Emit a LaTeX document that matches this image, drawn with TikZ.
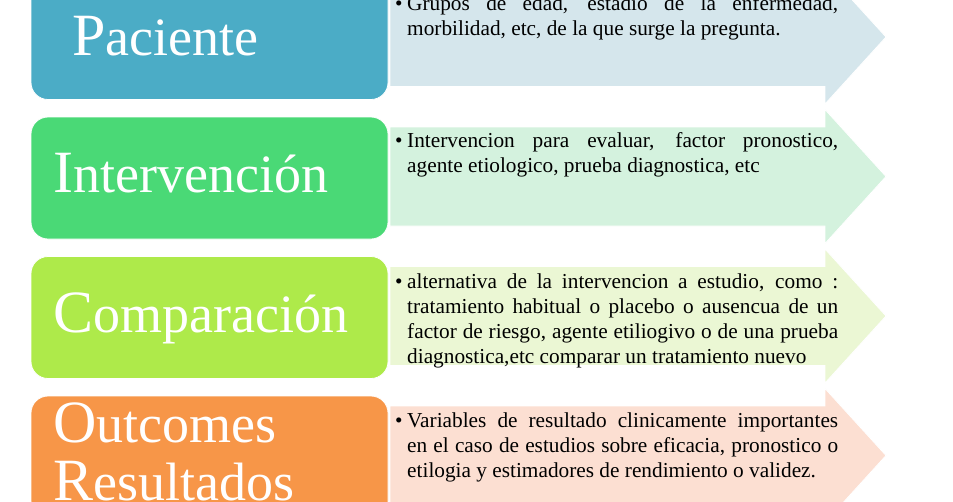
\documentclass[tikz,border=0pt]{standalone}
\usepackage{fontspec}
\setmainfont{Liberation Serif}
\definecolor{boxP}{RGB}{75,172,198}
\definecolor{arrP}{RGB}{213,230,236}
\definecolor{boxI}{RGB}{74,217,118}
\definecolor{arrI}{RGB}{212,242,222}
\definecolor{boxC}{RGB}{174,234,74}
\definecolor{arrC}{RGB}{235,247,212}
\definecolor{boxO}{RGB}{247,150,72}
\definecolor{arrO}{RGB}{252,223,210}
\newcommand\picoarrow[2]{%
  \fill[#2, draw=white, line width=0.8pt]
    (390,#1-49.5) -- (825,#1-49.5) -- (825,#1-67) -- (886,#1) --
    (825,#1+67) -- (825,#1+49.5) -- (390,#1+49.5) -- cycle;}
\newcommand\picobox[2]{%
  \fill[#2, draw=white, line width=0.8pt, rounded corners=17pt]
    (31,#1) rectangle (388,#1+122);}
\newcommand\bigini[1]{{\fontsize{60}{60}\selectfont #1}}
\newcommand\jline[1]{\hbox{\hspace*{12pt}\makebox[431pt][s]{#1}}}
\newcommand\bline[1]{\hbox{\makebox[12pt][l]{\textbullet}\makebox[431pt][s]{#1}}}
\newcommand\nline[1]{\hbox{\hspace*{12pt}#1}}
\tikzset{
  lbl/.style={anchor=base west, inner sep=0pt, text=white,
    font=\fontsize{54}{58}\selectfont},
  rtxt/.style={anchor=base west, inner sep=0pt, text=black,
    font=\fontsize{21.3}{25}\selectfont}
}
\begin{document}
\begin{tikzpicture}[x=1pt,y=-1pt]
\useasboundingbox (0,0) rectangle (953,501);
\clip (0,0) rectangle (953,501);
\fill[white] (0,0) rectangle (953,501);

\picoarrow{37}{arrP}
\picoarrow{176.5}{arrI}
\picoarrow{316}{arrC}
\picoarrow{455.5}{arrO}

\picobox{-22.5}{boxP}
\picobox{117}{boxI}
\picobox{256.5}{boxC}
\picobox{396}{boxO}

\node[lbl] (lp) at (72,55) {\bigini{P}aciente};
\node[lbl] (li) at (53,192) {\bigini{I}ntervención};
\node[lbl] (lc) at (53,332) {\bigini{C}omparación};
\node[lbl] (lo) at (53,442) {\vtop{\baselineskip=58pt\lineskiplimit=-20pt
  \hbox{\bigini{O}utcomes}\hbox{\bigini{R}esultados}}};

\node[rtxt] (tp) at (395,10) {\vtop{\baselineskip=25pt\lineskiplimit=-10pt
  \bline{Grupos de edad, estadio de la enfermedad,}
  \nline{morbilidad, etc, de la que surge la pregunta.}}};
\node[rtxt] (ti) at (395,147) {\vtop{\baselineskip=25pt\lineskiplimit=-10pt
  \bline{Intervencion para evaluar, factor pronostico,}
  \nline{agente etiologico, prueba diagnostica, etc}}};
\node[rtxt] (tc) at (395,288) {\vtop{\baselineskip=25pt\lineskiplimit=-10pt
  \bline{alternativa de la intervencion a estudio, como :}
  \jline{tratamiento habitual o placebo o ausencua de un}
  \jline{factor de riesgo, agente etiliogivo o de una prueba}
  \nline{diagnostica,etc comparar un tratamiento nuevo}}};
\node[rtxt] (to) at (395,427) {\vtop{\baselineskip=25pt\lineskiplimit=-10pt
  \bline{Variables de resultado clinicamente importantes}
  \jline{en el caso de estudios sobre eficacia, pronostico o}
  \nline{etilogia y estimadores de rendimiento o validez.}}};
\end{tikzpicture}
\end{document}
